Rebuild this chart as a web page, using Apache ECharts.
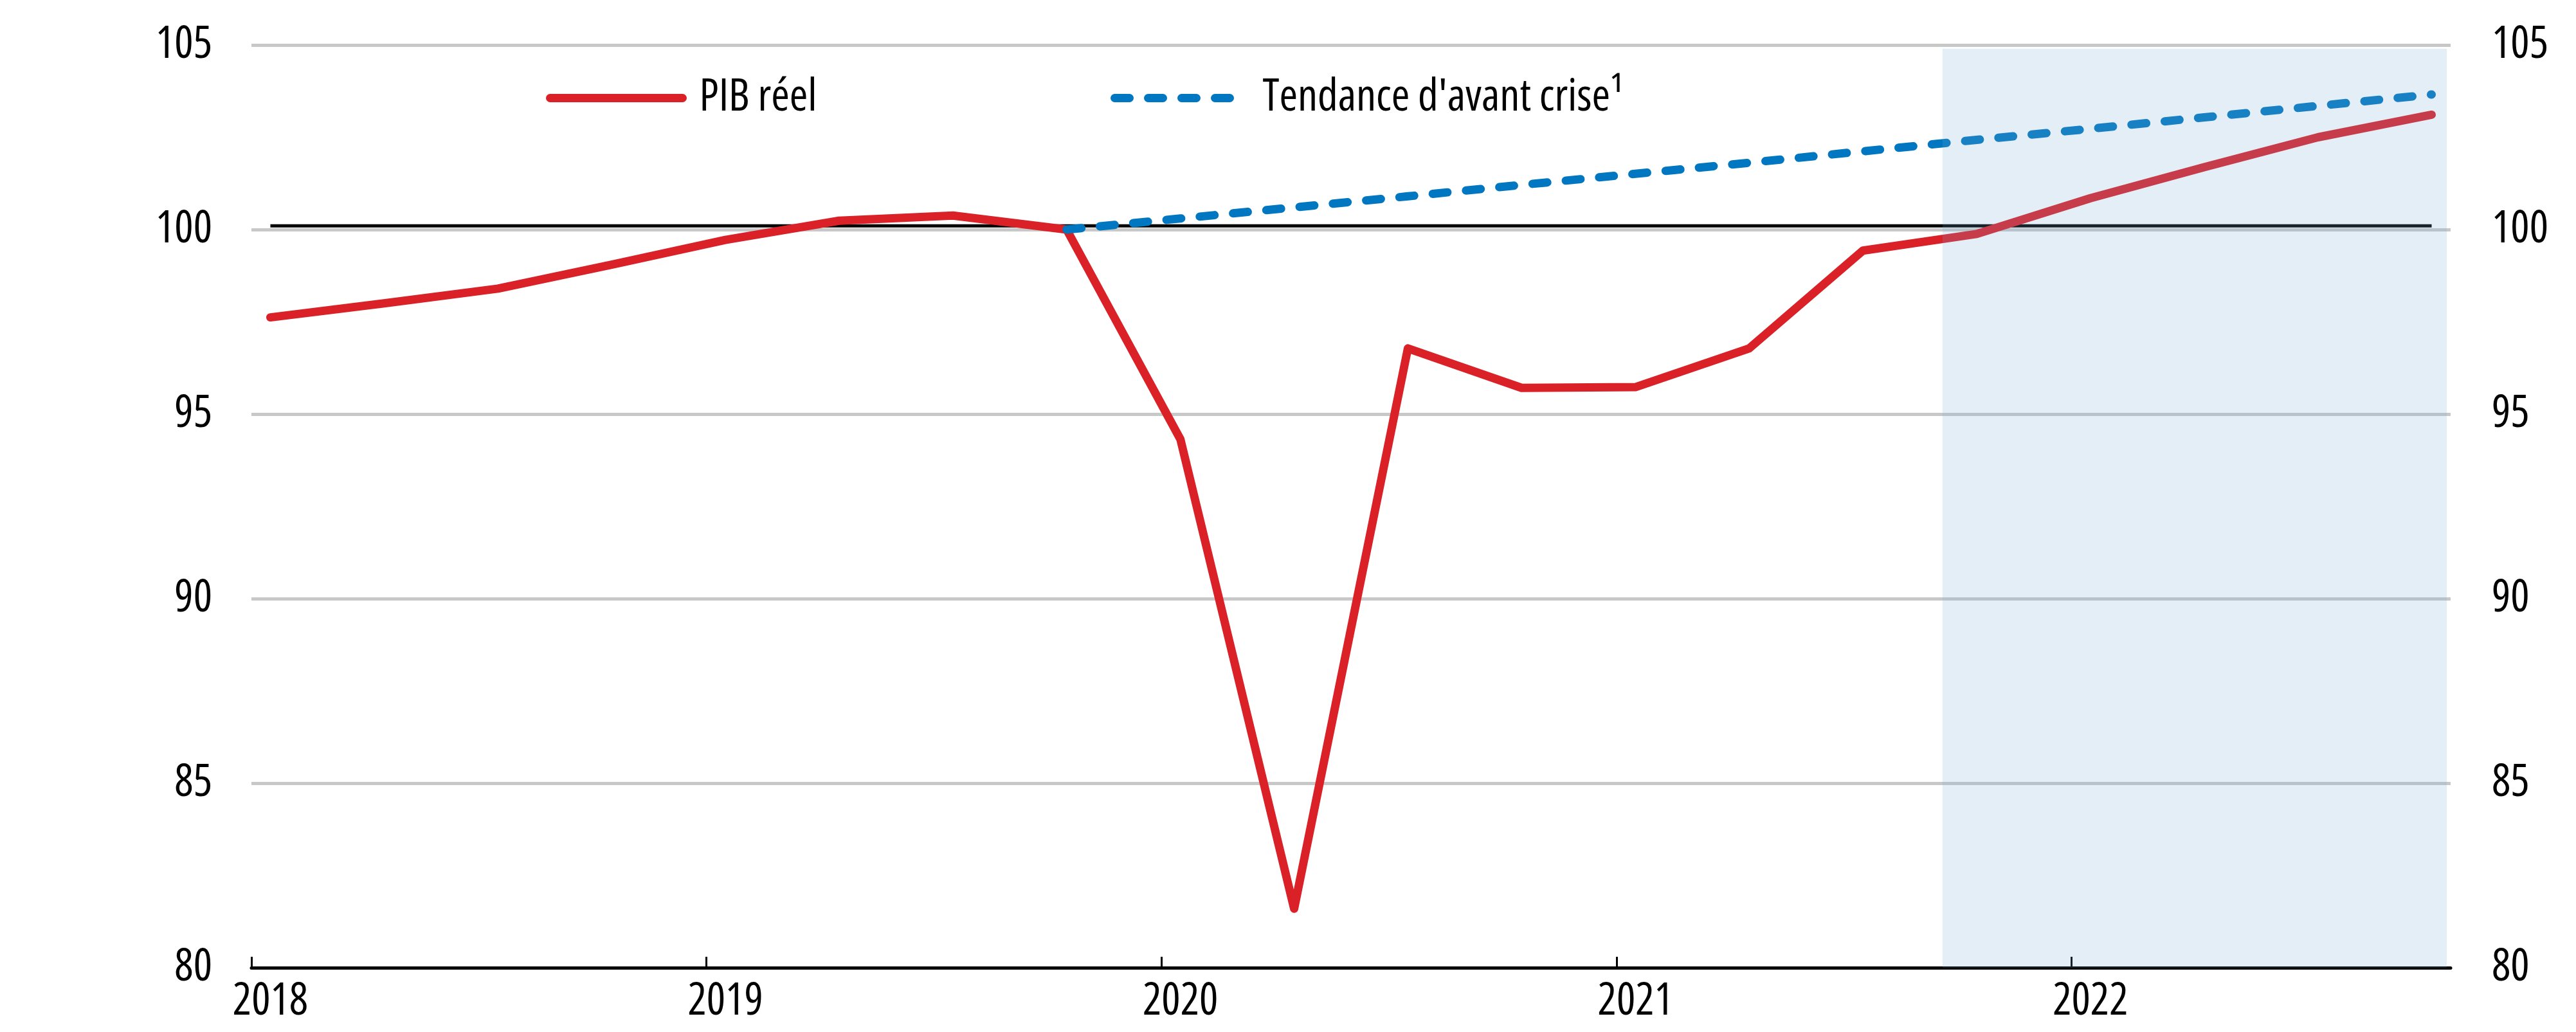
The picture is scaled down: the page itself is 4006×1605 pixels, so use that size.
<!DOCTYPE html>
<html>
<head>
<meta charset="utf-8">
<script src="https://cdn.jsdelivr.net/npm/echarts@6/dist/echarts.min.js"></script>
<style>
html,body{margin:0;padding:0;background:#ffffff;}
#chart{width:4006px;height:1605px;}
</style>
</head>
<body>
<div id="chart"></div>
<script>
// ---- Data ----
const quarters = ['2018-T1','2018-T2','2018-T3','2018-T4','2019-T1','2019-T2','2019-T3','2019-T4',
                  '2020-T1','2020-T2','2020-T3','2020-T4','2021-T1','2021-T2','2021-T3','2021-T4',
                  '2022-T1','2022-T2','2022-T3','2022-T4'];
const pibReel = [97.62, 98.0, 98.4, 99.05, 99.72, 100.24, 100.38, 100.0,
                 94.32, 81.6, 96.78, 95.71, 95.73, 96.78, 99.43, 99.88,
                 100.85, 101.69, 102.5, 103.11];
const tendance = [null, null, null, null, null, null, null, 100.0,
                  100.3, 100.6, 100.9, 101.21, 101.51, 101.81, 102.12, 102.43,
                  102.73, 103.04, 103.35, 103.66];
const ligne100 = [100.1, 100.1, 100.1, 100.1, 100.1, 100.1, 100.1, 100.1,
                  100.1, 100.1, 100.1, 100.1, 100.1, 100.1, 100.1, 100.1,
                  100.1, 100.1, 100.1, 100.1];
const yearLabels = ['2018', '2019', '2020', '2021', '2022'];
const yMin = 80, yMax = 105, yStep = 5;
// projection (shaded) period, in months since January 2018
const projectionRange = [44.6, 57.9];
const projectionTop = 104.9;

// ---- Helpers ----
const FONT = "'Open Sans', 'Liberation Sans', sans-serif";
const STRETCH = 'condensed';
const firstYear = Number(yearLabels[0]);
const monthsSpan = 58; // Jan 2018 .. Oct 2022
function qx(label) {
  const [y, q] = label.split('-T');
  return (Number(y) - firstYear) * 12 + (Number(q) - 1) * 3 + 0.5;
}
function pairs(values) {
  const out = [];
  values.forEach((v, i) => { if (v !== null) out.push([qx(quarters[i]), v]); });
  return out;
}
const yearTicks = yearLabels.map(y => (Number(y) - firstYear) * 12);
const yearLabelPos = yearTicks.map(v => v + 0.5);
const txt = {fontFamily: FONT, fontWeight: STRETCH, fontSize: 69, color: '#000'};

const chart = echarts.init(document.getElementById('chart'), null, {renderer: 'canvas'});
const option = {
  animation: false,
  backgroundColor: '#ffffff',
  grid: {left: 391, right: 195, top: 70, bottom: 100, containLabel: false},
  legend: [
    {
      data: ['PIB réel'],
      left: 849, top: 118,
      itemWidth: 206, itemHeight: 30,
      padding: 0,
      itemStyle: {opacity: 0},
      lineStyle: {width: 13, cap: 'round', color: '#da2128', type: 'solid'},
      textStyle: Object.assign({}, txt, {padding: [0, 0, 0, 21]}),
      selectedMode: false
    },
    {
      data: ["Tendance d'avant crise¹"],
      left: 1727, top: 118,
      itemWidth: 200, itemHeight: 30,
      padding: 0,
      itemStyle: {opacity: 0},
      lineStyle: {width: 13, cap: 'round', color: '#0077c0', type: [23, 29]},
      textStyle: Object.assign({}, txt, {padding: [0, 0, 0, 25]}),
      selectedMode: false
    }
  ],
  xAxis: {
    type: 'value',
    min: 0, max: monthsSpan,
    axisLine: {show: true, lineStyle: {color: '#000', width: 5}},
    axisTick: {show: true, inside: true, length: 17, customValues: yearTicks, lineStyle: {color: '#000', width: 3}},
    axisLabel: Object.assign({
      customValues: yearLabelPos,
      formatter: v => yearLabels[Math.floor(v / 12)],
      margin: 19
    }, txt),
    splitLine: {show: false}
  },
  yAxis: [
    {
      type: 'value', position: 'left',
      min: yMin, max: yMax, interval: yStep,
      axisLine: {show: false}, axisTick: {show: false},
      axisLabel: Object.assign({margin: 61}, txt),
      splitLine: {show: true, lineStyle: {color: '#c8c8c8', width: 5}}
    },
    {
      type: 'value', position: 'right',
      min: yMin, max: yMax, interval: yStep,
      axisLine: {show: false}, axisTick: {show: false},
      axisLabel: Object.assign({margin: 64}, txt),
      splitLine: {show: false}
    }
  ],
  series: [
    {
      name: 'Ligne 100', type: 'line', data: pairs(ligne100),
      symbol: 'none', silent: true, z: 2,
      lineStyle: {color: '#000000', width: 5}
    },
    {
      name: 'PIB réel', type: 'line', data: pairs(pibReel),
      symbol: 'none', z: 3,
      lineStyle: {color: '#da2128', width: 13, cap: 'round', join: 'round'},
      itemStyle: {color: '#da2128'},
      markArea: {
        silent: true, z: 10,
        itemStyle: {color: 'rgba(120,170,215,0.2)'},
        data: [[{xAxis: projectionRange[0], yAxis: yMin}, {xAxis: projectionRange[1], yAxis: projectionTop}]]
      }
    },
    {
      name: "Tendance d'avant crise¹", type: 'line', data: pairs(tendance),
      symbol: 'none', z: 4,
      lineStyle: {color: '#0077c0', width: 13, type: [23, 29], cap: 'round', join: 'round'},
      itemStyle: {color: '#0077c0'}
    }
  ]
};
chart.setOption(option);
</script>
</body>
</html>
